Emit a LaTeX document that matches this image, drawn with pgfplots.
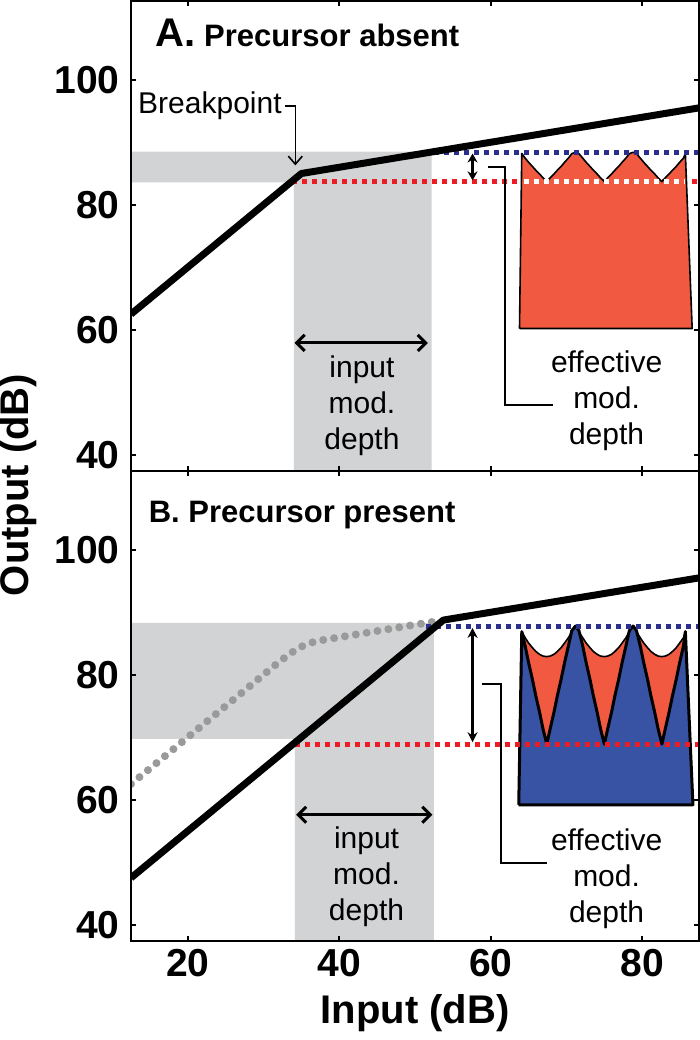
\documentclass[border=0pt]{standalone}
\usepackage{fontspec}
\setmainfont{Liberation Sans}
\usepackage{pgfplots}
\pgfplotsset{compat=1.18}
\usetikzlibrary{arrows.meta}

\definecolor{band}{HTML}{D1D3D4}
\definecolor{dotgray}{HTML}{9A9A9A}
\definecolor{modred}{HTML}{ED1C24}
\definecolor{modblue}{HTML}{2B2F8C}
\definecolor{waveorange}{HTML}{F15A40}
\definecolor{waveblue}{HTML}{3953A4}

\pgfplotsset{
  panel/.style={
    width=284pt, height=235pt, scale only axis,
    xmin=12.5, xmax=87.5, ymin=37.4, ymax=112.6,
    xtick={20,40,60,80}, ytick={40,60,80,100},
    tick align=inside, major tick length=2.5pt,
    axis line style={line width=1pt},
    tick style={black, line width=0.8pt},
    axis on top,
    /pgf/number format/assume math mode=true,
    ticklabel style={font=\fontsize{19.5}{20}\selectfont\bfseries, inner sep=0pt},
    yticklabel style={xshift=-5.5pt},
    xticklabel style={yshift=-4pt},
  },
}
\tikzset{
  modline/.style={line width=2.5pt, dash pattern=on 2.5pt off 2.5pt},
  curve/.style={black, line width=3.5pt, line join=round},
  note/.style={font=\fontsize{15}{18}\selectfont, align=center, inner sep=0pt},
  title/.style={font=\fontsize{15.5}{18}\selectfont\bfseries, anchor=base west, inner sep=0pt},
}

\begin{document}
\begin{tikzpicture}
\path[use as bounding box] (-65.5pt,0.5pt) rectangle (284.5pt,-519.5pt);

% A. precursor absent
\begin{axis}[panel, at={(0,0)}, anchor=north west, xticklabels={}]
  \addplot[fill=band, draw=none] coordinates {
    (12.5,83.6) (12.5,88.5) (52.2,88.5) (52.2,30) (34,30) (34,83.6)};
  \addplot[modline, modred] coordinates {(33.8,83.7) (87.5,83.7)};
  \addplot[fill=waveorange, draw=black, line width=0.8pt, line join=round] coordinates {
    (63.8,60.2) (64.1,88.2) (64.55,87.46) (65.0,86.8) (65.5,86.14) (65.95,85.53)
    (66.45,84.92) (66.9,84.31) (67.4,83.7) (67.85,84.31) (68.35,84.92) (68.8,85.53)
    (69.3,86.14) (69.75,86.8) (70.25,87.46) (70.7,88.17) (71.2,88.4) (71.65,88.17)
    (72.15,87.46) (72.6,86.8) (73.1,86.14) (73.55,85.53) (74.05,84.92) (74.5,84.31)
    (75.0,83.7) (75.45,84.31) (75.95,84.92) (76.4,85.53) (76.9,86.14) (77.35,86.8)
    (77.85,87.46) (78.3,88.17) (78.8,88.4) (79.25,88.17) (79.75,87.46) (80.2,86.8)
    (80.7,86.14) (81.15,85.53) (81.65,84.92) (82.1,84.31) (82.6,83.7) (83.05,84.31)
    (83.55,84.92) (84.0,85.53) (84.5,86.14) (84.95,86.8) (85.45,87.46) (85.7,88.2)
    (86.6,60.2) (63.8,60.2)};
  \addplot[modline, white] coordinates {(64.4,83.7) (85.6,83.7)};
  \addplot[modline, modblue] coordinates {(51.2,88.4) (87.5,88.4)};
  \addplot[curve] coordinates {(12.5,62.5) (35,85) (87.5,95.5)};

  \node[anchor=base west, inner sep=0pt, font=\fontsize{20}{24}\selectfont\bfseries]
    at (axis cs:15.7,105.4) {A.\fontsize{15.5}{18}\selectfont\ Precursor absent};
  \node[anchor=base west, inner sep=0pt, font=\fontsize{15}{18}\selectfont]
    at (axis cs:13.4,94.6) {Breakpoint};
  \draw[line width=0.8pt, -{Straight Barb[length=4pt,width=7pt]}]
    (axis cs:32.9,95.8) -- (axis cs:34.2,95.8) -- (axis cs:34.2,86.3);
  \draw[line width=1.5pt, {Straight Barb[length=4pt,width=8pt]}-{Straight Barb[length=4pt,width=8pt]}]
    (axis cs:34.1,57.9) -- (axis cs:51.7,57.9);
  \node[note] at (axis cs:43,47.8) {input\\mod.\\depth};
  \draw[line width=1.5pt, {Stealth[length=4.5pt,width=5pt]}-{Stealth[length=4.5pt,width=5pt]}]
    (axis cs:57.6,88.2) -- (axis cs:57.6,83.9);
  \draw[line width=1pt] (axis cs:59.6,86.0) -- (axis cs:61.9,86.0)
    -- (axis cs:61.9,48.0) -- (axis cs:68.2,48.0);
  \node[note] at (axis cs:75.3,48.6) {effective\\mod.\\depth};
\end{axis}

% B. precursor present
\begin{axis}[panel, at={(0,-235pt)}, anchor=north west]
  \addplot[fill=band, draw=none] coordinates {
    (12.5,69.75) (12.5,88.3) (52.5,88.3) (52.5,30) (34.15,30) (34.15,69.75)};
  \addplot[dotgray, line width=4pt, line cap=round, dash pattern=on 0pt off 5.5pt] coordinates {
    (12.5,62.5) (32,82) (33.5,83.4) (35,84.5) (36.5,85.2) (38,85.6) (40,86.0)
    (45,87.0) (50,88.0) (53.5,88.7)};
  \addplot[fill=waveorange, draw=black, line width=0.8pt, line join=round] coordinates {
    (63.7,59.2) (64.1,86.9) (64.55,85.92) (65.0,85.08) (65.5,84.34) (65.95,83.73)
    (66.45,83.27) (66.9,82.99) (67.4,82.9) (67.85,82.99) (68.35,83.27) (68.8,83.73)
    (69.3,84.34) (69.75,85.08) (70.25,85.92) (70.7,86.84) (71.2,87.8) (71.65,86.84)
    (72.15,85.92) (72.6,85.08) (73.1,84.34) (73.55,83.73) (74.05,83.27) (74.5,82.99)
    (75.0,82.9) (75.45,82.99) (75.95,83.27) (76.4,83.73) (76.9,84.34) (77.35,85.08)
    (77.85,85.92) (78.3,86.84) (78.8,87.8) (79.25,86.84) (79.75,85.92) (80.2,85.08)
    (80.7,84.34) (81.15,83.73) (81.65,83.27) (82.1,82.99) (82.6,82.9) (83.05,82.99)
    (83.55,83.27) (84.0,83.73) (84.5,84.34) (84.95,85.08) (85.45,85.92) (85.7,86.9)
    (86.7,59.2) (63.7,59.2)};
  \addplot[fill=waveblue, draw=black, line width=1.5pt, line join=round] coordinates {
    (63.7,59.2) (64.1,86.9) (64.55,84.59) (65.0,81.94) (65.5,79.3) (65.95,76.65)
    (66.45,74.0) (66.9,71.36) (67.4,68.9) (67.85,71.36) (68.35,74.0) (68.8,76.65)
    (69.3,79.3) (69.75,81.94) (70.25,84.59) (70.7,87.04) (71.2,87.8) (71.65,87.04)
    (72.15,84.59) (72.6,81.94) (73.1,79.3) (73.55,76.65) (74.05,74.0) (74.5,71.36)
    (75.0,68.9) (75.45,71.36) (75.95,74.0) (76.4,76.65) (76.9,79.3) (77.35,81.94)
    (77.85,84.59) (78.3,87.04) (78.8,87.8) (79.25,87.04) (79.75,84.59) (80.2,81.94)
    (80.7,79.3) (81.15,76.65) (81.65,74.0) (82.1,71.36) (82.6,68.9) (83.05,71.36)
    (83.55,74.0) (84.0,76.65) (84.5,79.3) (84.95,81.94) (85.45,84.59) (85.7,86.9)
    (86.7,59.2) (63.7,59.2)};
  \addplot[modline, modred] coordinates {(34.15,68.9) (87.5,68.9)};
  \addplot[modline, modblue] coordinates {(51.5,87.8) (87.5,87.8)};
  \addplot[curve] coordinates {(12.5,47.5) (53.75,88.75) (87.5,95.5)};

  \node[title] at (axis cs:14.8,104.4) {B. Precursor present};
  \draw[line width=1.5pt, {Straight Barb[length=4pt,width=8pt]}-{Straight Barb[length=4pt,width=8pt]}]
    (axis cs:34.3,57.6) -- (axis cs:52.3,57.6);
  \node[note] at (axis cs:43.6,47.7) {input\\mod.\\depth};
  \draw[line width=1.5pt, {Stealth[length=5pt,width=5pt]}-{Stealth[length=5pt,width=5pt]}]
    (axis cs:57.6,87.5) -- (axis cs:57.6,69.2);
  \draw[line width=1pt] (axis cs:58.8,78.6) -- (axis cs:61.4,78.6)
    -- (axis cs:61.4,49.9) -- (axis cs:67.4,49.9);
  \node[note] at (axis cs:75.3,47.3) {effective\\mod.\\depth};
\end{axis}

\node[rotate=90, inner sep=0pt, font=\fontsize{20}{24}\selectfont\bfseries]
  at (-56.25pt,-242pt) {Output (dB)};
\node[inner sep=0pt, font=\fontsize{20}{24}\selectfont\bfseries]
  at (142pt,-506pt) {Input (dB)};
\end{tikzpicture}
\end{document}
